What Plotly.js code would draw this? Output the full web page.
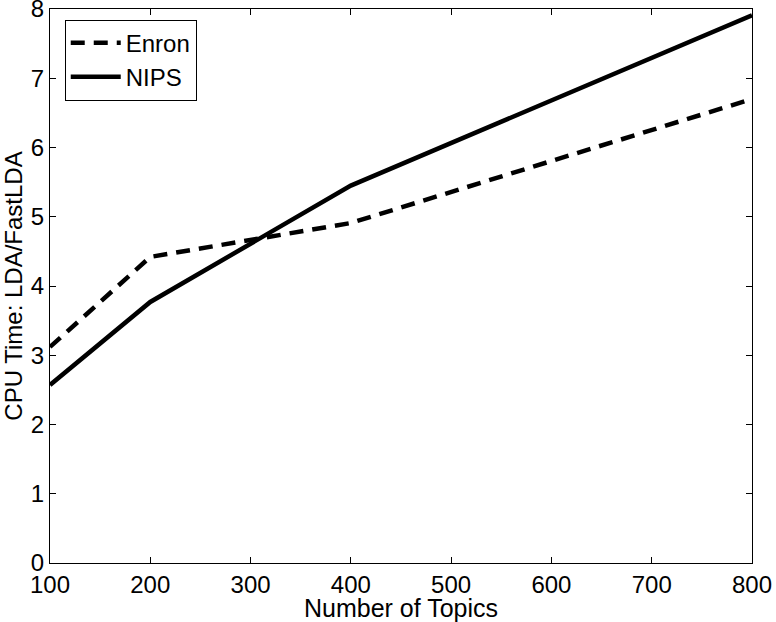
<!DOCTYPE html>
<html>
<head>
<meta charset="utf-8">
<script src="https://cdn.plot.ly/plotly-3.0.1.min.js"></script>
<style>
  html, body { margin: 0; padding: 0; background: #fff; }
  #chart { width: 776px; height: 622px; }
</style>
</head>
<body>
<div id="chart"></div>
<script>
// Number of topics on the x axis
const topics = [100, 200, 400, 800];
// Speedup (CPU time LDA / FastLDA)
const enron = [3.12, 4.42, 4.91, 6.70];
const nips = [2.57, 3.77, 5.45, 7.91];

const FONT = 'Liberation Sans, Arial, Helvetica, sans-serif';

const traces = [
  {
    x: topics, y: enron,
    mode: 'lines',
    type: 'scatter',
    name: 'Enron',
    line: { color: '#000', width: 4.5, dash: '14px,9px' },
  },
  {
    x: topics, y: nips,
    mode: 'lines',
    type: 'scatter',
    name: 'NIPS',
    line: { color: '#000', width: 4.5 },
  },
];

const axisCommon = {
  showgrid: false,
  zeroline: false,
  showline: true,
  linecolor: '#000',
  linewidth: 1,
  mirror: 'ticks',
  ticks: 'inside',
  ticklen: 6,
  tickwidth: 1,
  tickcolor: '#000',
  ticklabeloverflow: 'allow',
  tickfont: { family: FONT, size: 24, color: '#000' },
};

Plotly.newPlot('chart', traces, {
  width: 776,
  height: 622,
  paper_bgcolor: '#fff',
  plot_bgcolor: '#fff',
  font: { family: FONT, color: '#000' },
  margin: { l: 50, r: 24, t: 9, b: 59 },
  xaxis: Object.assign({}, axisCommon, {
    range: [100, 800],
    dtick: 100,
    tick0: 100,
    title: { text: 'Number of Topics', font: { family: FONT, size: 25, color: '#000' }, standoff: 0 },
  }),
  yaxis: Object.assign({}, axisCommon, {
    range: [0, 8],
    dtick: 1,
    title: { text: 'CPU Time: LDA/FastLDA', font: { family: FONT, size: 24, color: '#000' }, standoff: 4 },
  }),
  showlegend: true,
  legend: {
    x: 0.021, y: 0.981,
    xanchor: 'left', yanchor: 'top',
    bgcolor: '#fff',
    bordercolor: '#000',
    borderwidth: 1,
    itemwidth: 50,
    font: { family: FONT, size: 24, color: '#000' },
    tracegroupgap: 0,
  },
}, { displayModeBar: false, staticPlot: true });
</script>
</body>
</html>
